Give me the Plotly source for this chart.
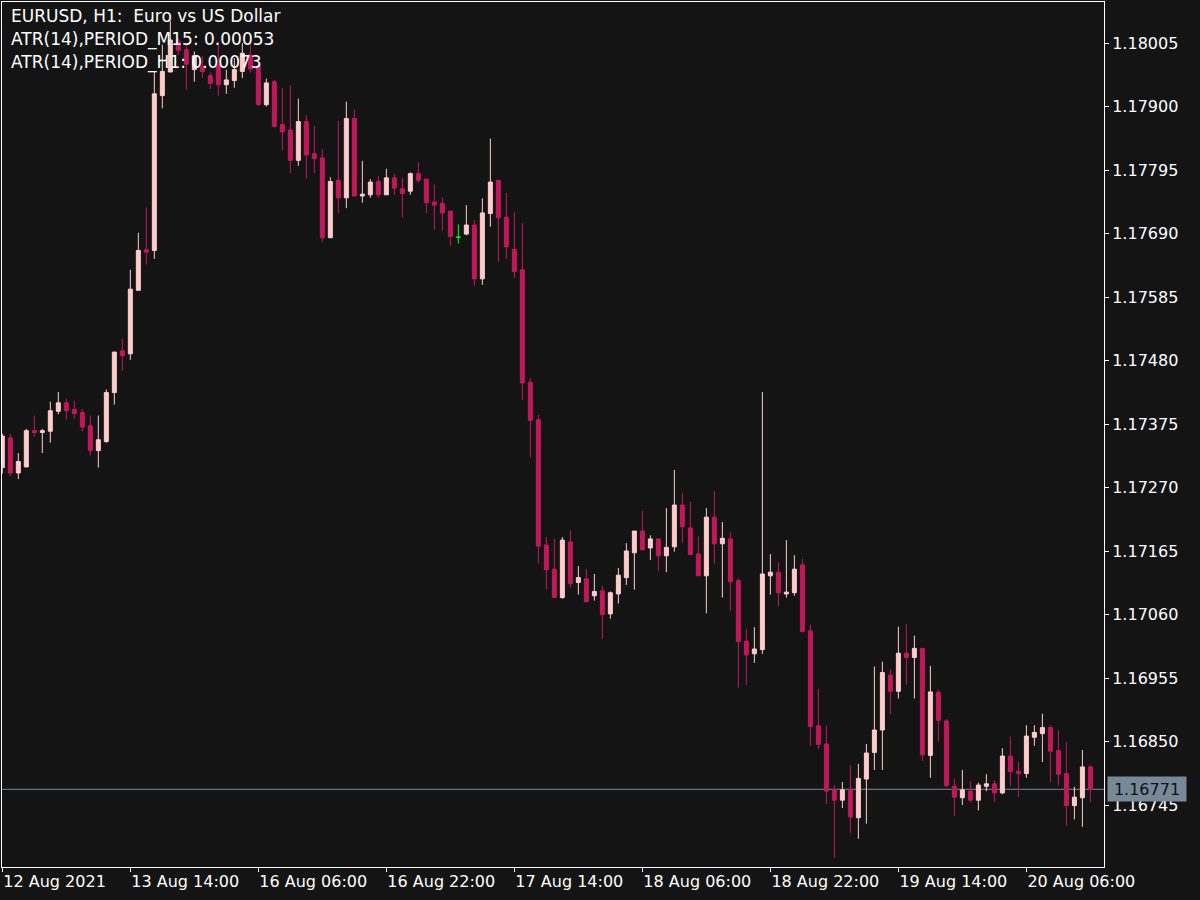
import pandas as pd
import plotly.graph_objects as go

# EURUSD H1 candles (12 Aug 2021 22:00 -> 20 Aug 2021 14:00)
opens = [
    1.17303, 1.17352, 1.17294, 1.17304, 1.17364, 1.17361, 1.17363, 1.17396, 1.17410, 1.17399,
    1.17394, 1.17372, 1.17331, 1.17346, 1.17427, 1.17496, 1.17491, 1.17596, 1.17663, 1.17662,
    1.17918, 1.17957, 1.18007, 1.17994, 1.17961, 1.17966, 1.17951, 1.17969, 1.17936, 1.17943,
    1.17958, 1.17985, 1.17966, 1.17903, 1.17941, 1.17870, 1.17861, 1.17811, 1.17875, 1.17822,
    1.17815, 1.17683, 1.17778, 1.17749, 1.17880, 1.17752, 1.17754, 1.17776, 1.17754, 1.17782,
    1.17764, 1.17760, 1.17789, 1.17780, 1.17742, 1.17740, 1.17727, 1.17684, 1.17689, 1.17704,
    1.17615, 1.17723, 1.17778, 1.17717, 1.17664, 1.17630, 1.17444, 1.17382, 1.17175, 1.17135,
    1.17088, 1.17180, 1.17113, 1.17119, 1.17091, 1.17099, 1.17061, 1.17094, 1.17121, 1.17162,
    1.17198, 1.17170, 1.17185, 1.17157, 1.17172, 1.17241, 1.17203, 1.17160, 1.17124, 1.17221,
    1.17177, 1.17185, 1.17116, 1.17016, 1.16995, 1.17002, 1.17124, 1.17130, 1.17094, 1.17096,
    1.17142, 1.17033, 1.16876, 1.16846, 1.16770, 1.16753, 1.16770, 1.16724, 1.16788, 1.16832,
    1.16869, 1.16960, 1.16933, 1.16996, 1.16989, 1.17004, 1.16827, 1.16931, 1.16884, 1.16776,
    1.16757, 1.16768, 1.16753, 1.16776, 1.16780, 1.16765, 1.16826, 1.16801, 1.16797, 1.16857,
    1.16863, 1.16873, 1.16835, 1.16797, 1.16744, 1.16757, 1.16808,
]
highs = [
    1.17359, 1.17359, 1.17327, 1.17367, 1.17389, 1.17367, 1.17412, 1.17428, 1.17417, 1.17413,
    1.17400, 1.17389, 1.17389, 1.17432, 1.17494, 1.17516, 1.17630, 1.17691, 1.17733, 1.17958,
    1.18002, 1.18042, 1.18013, 1.18005, 1.17991, 1.17983, 1.17956, 1.18007, 1.17961, 1.17980,
    1.18005, 1.18005, 1.17977, 1.17946, 1.17944, 1.17931, 1.17935, 1.17913, 1.17885, 1.17868,
    1.17830, 1.17783, 1.17876, 1.17908, 1.17895, 1.17810, 1.17780, 1.17785, 1.17797, 1.17789,
    1.17782, 1.17791, 1.17808, 1.17780, 1.17771, 1.17750, 1.17727, 1.17705, 1.17737, 1.17712,
    1.17748, 1.17847, 1.17778, 1.17757, 1.17725, 1.17707, 1.17451, 1.17390, 1.17188, 1.17185,
    1.17188, 1.17199, 1.17140, 1.17135, 1.17127, 1.17107, 1.17098, 1.17137, 1.17178, 1.17198,
    1.17231, 1.17191, 1.17185, 1.17236, 1.17299, 1.17261, 1.17246, 1.17189, 1.17236, 1.17264,
    1.17213, 1.17196, 1.17120, 1.17036, 1.17039, 1.17428, 1.17160, 1.17147, 1.17183, 1.17158,
    1.17152, 1.17043, 1.16937, 1.16876, 1.16778, 1.16783, 1.16811, 1.16813, 1.16846, 1.16974,
    1.16982, 1.16969, 1.17040, 1.17044, 1.17025, 1.17004, 1.16975, 1.16936, 1.16887, 1.16789,
    1.16803, 1.16785, 1.16782, 1.16796, 1.16786, 1.16839, 1.16858, 1.16817, 1.16877, 1.16877,
    1.16896, 1.16877, 1.16869, 1.16849, 1.16775, 1.16836, 1.16811,
]
lows = [
    1.17293, 1.17289, 1.17284, 1.17304, 1.17354, 1.17327, 1.17344, 1.17391, 1.17382, 1.17384,
    1.17363, 1.17323, 1.17303, 1.17344, 1.17407, 1.17463, 1.17481, 1.17596, 1.17639, 1.17648,
    1.17897, 1.17957, 1.17985, 1.17928, 1.17941, 1.17947, 1.17929, 1.17918, 1.17921, 1.17931,
    1.17947, 1.17956, 1.17901, 1.17900, 1.17865, 1.17827, 1.17790, 1.17802, 1.17781, 1.17790,
    1.17676, 1.17683, 1.17724, 1.17732, 1.17752, 1.17741, 1.17749, 1.17749, 1.17754, 1.17754,
    1.17717, 1.17754, 1.17774, 1.17724, 1.17696, 1.17694, 1.17669, 1.17673, 1.17687, 1.17604,
    1.17605, 1.17701, 1.17643, 1.17648, 1.17617, 1.17415, 1.17320, 1.17144, 1.17102, 1.17088,
    1.17086, 1.17104, 1.17093, 1.17081, 1.17083, 1.17020, 1.17053, 1.17078, 1.17109, 1.17101,
    1.17167, 1.17150, 1.17132, 1.17130, 1.17164, 1.17178, 1.17159, 1.17124, 1.17062, 1.17144,
    1.17088, 1.17066, 1.16939, 1.16944, 1.16980, 1.16995, 1.17093, 1.17073, 1.17088, 1.17091,
    1.17030, 1.16843, 1.16838, 1.16747, 1.16658, 1.16740, 1.16699, 1.16689, 1.16714, 1.16803,
    1.16803, 1.16895, 1.16921, 1.16944, 1.16921, 1.16818, 1.16790, 1.16850, 1.16774, 1.16727,
    1.16745, 1.16749, 1.16736, 1.16768, 1.16750, 1.16763, 1.16777, 1.16758, 1.16790, 1.16843,
    1.16816, 1.16782, 1.16777, 1.16711, 1.16721, 1.16709, 1.16750,
]
closes = [
    1.17355, 1.17294, 1.17313, 1.17364, 1.17361, 1.17364, 1.17397, 1.17410, 1.17397, 1.17392,
    1.17370, 1.17331, 1.17349, 1.17427, 1.17494, 1.17488, 1.17598, 1.17662, 1.17659, 1.17921,
    1.17958, 1.18010, 1.17993, 1.17970, 1.17984, 1.17958, 1.17938, 1.17936, 1.17944, 1.17961,
    1.17988, 1.17962, 1.17903, 1.17939, 1.17867, 1.17858, 1.17811, 1.17875, 1.17820, 1.17814,
    1.17683, 1.17776, 1.17749, 1.17880, 1.17752, 1.17755, 1.17775, 1.17754, 1.17782, 1.17765,
    1.17756, 1.17789, 1.17778, 1.17741, 1.17737, 1.17724, 1.17685, 1.17684, 1.17704, 1.17615,
    1.17724, 1.17775, 1.17716, 1.17668, 1.17627, 1.17443, 1.17381, 1.17173, 1.17134, 1.17088,
    1.17183, 1.17111, 1.17121, 1.17081, 1.17098, 1.17060, 1.17096, 1.17125, 1.17165, 1.17198,
    1.17167, 1.17185, 1.17157, 1.17171, 1.17241, 1.17205, 1.17159, 1.17124, 1.17221, 1.17177,
    1.17186, 1.17114, 1.17015, 1.16993, 1.17003, 1.17127, 1.17130, 1.17096, 1.17097, 1.17135,
    1.17032, 1.16875, 1.16845, 1.16768, 1.16753, 1.16770, 1.16725, 1.16789, 1.16831, 1.16869,
    1.16964, 1.16933, 1.16996, 1.16989, 1.17004, 1.16828, 1.16932, 1.16885, 1.16777, 1.16758,
    1.16770, 1.16753, 1.16778, 1.16780, 1.16765, 1.16826, 1.16800, 1.16797, 1.16859, 1.16865,
    1.16873, 1.16834, 1.16796, 1.16744, 1.16758, 1.16808, 1.16771,
]

price_ticks = [1.16745, 1.16850, 1.16955, 1.17060, 1.17165, 1.17270, 1.17375,
               1.17480, 1.17585, 1.17690, 1.17795, 1.17900, 1.18005]
last_price = 1.16771
header_lines = [
    "EURUSD, H1:\u00a0 Euro vs US Dollar",
    "ATR(14),PERIOD_M15: 0.00053",
    "ATR(14),PERIOD_H1: 0.00073",
]

bull_color = "#FFCCCC"
bear_color = "#C2185B"
doji_color = "#00FF00"
bg_color = "#141414"
line_gray = "#778899"

# trading hours only (weekend skipped), one bar per hour
hours = pd.date_range("2021-08-12 22:00", "2021-08-21 00:00", freq="h")
hours = hours[hours.dayofweek < 5][:len(opens)]

df = pd.DataFrame({"open": opens, "high": highs, "low": lows, "close": closes})
df["pos"] = range(len(df))
flat = df[df["open"] == df["close"]]
body = df[df["open"] != df["close"]]

# time labels every 16 bars
tick_pos = list(range(0, len(df), 16))
tick_text = []
for p in tick_pos:
    if p == 0:
        tick_text.append(hours[p].strftime("%d %b %Y"))
    else:
        tick_text.append(hours[p].strftime("%d %b %H:%M"))

fig = go.Figure()
fig.add_trace(go.Candlestick(
    x=body["pos"], open=body["open"], high=body["high"], low=body["low"], close=body["close"],
    increasing=dict(line=dict(color=bull_color, width=1), fillcolor=bull_color),
    decreasing=dict(line=dict(color=bear_color, width=1), fillcolor=bear_color),
    hoverinfo="skip",
))
fig.add_trace(go.Candlestick(
    x=flat["pos"], open=flat["open"], high=flat["high"], low=flat["low"], close=flat["close"],
    increasing=dict(line=dict(color=doji_color, width=1), fillcolor=doji_color),
    decreasing=dict(line=dict(color=doji_color, width=1), fillcolor=doji_color),
    hoverinfo="skip",
))

# current price line + label box
fig.add_shape(type="line", xref="paper", x0=0, x1=1, yref="y", y0=last_price, y1=last_price,
              line=dict(color=line_gray, width=1), layer="below")
fig.add_annotation(text=f"{last_price:.5f}", xref="paper", x=1, xanchor="left", xshift=3,
                   yref="y", y=last_price, yanchor="middle", showarrow=False,
                   bgcolor=line_gray, width=74, height=20, borderpad=2,
                   font=dict(family="DejaVu Sans", size=16, color="#111111"))

for i, line in enumerate(header_lines):
    fig.add_annotation(text=line, xref="paper", yref="paper", x=0, y=1, xanchor="left",
                       yanchor="middle", xshift=7, yshift=-(14 + 23 * i), showarrow=False,
                       font=dict(family="DejaVu Sans", size=17, color="white"))

fig.update_layout(
    width=1200, height=900,
    paper_bgcolor=bg_color, plot_bgcolor=bg_color,
    margin=dict(l=2, r=96, t=2, b=33),
    showlegend=False,
    boxgap=0.5, boxgroupgap=0,
    font=dict(family="DejaVu Sans", size=16, color="white"),
    xaxis=dict(
        range=[-0.04, 137.7], rangeslider=dict(visible=False),
        showgrid=False, zeroline=False,
        showline=True, linecolor="white", linewidth=1, mirror=True,
        ticks="outside", ticklen=4, tickcolor="white",
        tickvals=tick_pos, ticktext=tick_text, ticklabelposition="outside right",
    ),
    yaxis=dict(
        side="right", range=[1.166425, 1.180728],
        tickvals=price_ticks, ticktext=[f"{v:.5f}" for v in price_ticks],
        showgrid=False, zeroline=False,
        showline=True, linecolor="white", linewidth=1, mirror=True,
        ticks="outside", ticklen=4, tickcolor="white",
    ),
)

# page has a default 8px body margin; drop it so the chart sits at the corner
fig.write_html("out.html", config={"displayModeBar": False},
               post_script="document.body.style.margin='0';")
